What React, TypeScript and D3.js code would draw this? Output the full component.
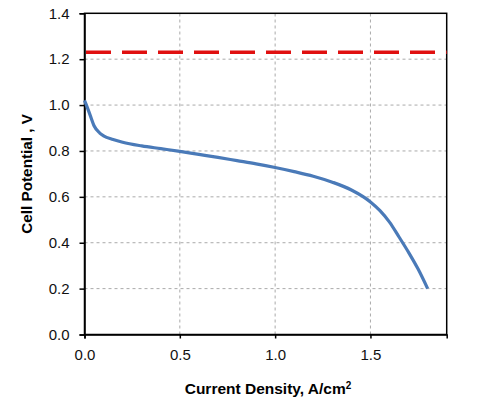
import { useEffect, useRef } from "react";
import * as d3 from "d3";

// polarization curve
const currentDensity = [0, 0.01, 0.03, 0.05, 0.08, 0.1, 0.15, 0.2, 0.3, 0.4, 0.5, 0.6, 0.7, 0.8, 0.9, 1.0, 1.1, 1.2, 1.3, 1.4, 1.5, 1.55, 1.6, 1.65, 1.7, 1.75, 1.8];
const cellPotential = [1.02, 1.0, 0.955, 0.91, 0.878, 0.866, 0.85, 0.838, 0.822, 0.81, 0.798, 0.785, 0.772, 0.758, 0.744, 0.728, 0.71, 0.69, 0.664, 0.63, 0.578, 0.54, 0.49, 0.425, 0.358, 0.285, 0.2];

// thermodynamic (reversible) potential line
const reversibleX = [0, 1.9];
const reversibleV = [1.23, 1.23];

const xTicks = [0, 0.5, 1.0, 1.5];
const yTicks = [0, 0.2, 0.4, 0.6, 0.8, 1.0, 1.2, 1.4];

const W = 491;
const H = 402;
const margin = { left: 84.5, top: 13.3, right: 491 - 446.7, bottom: 402 - 334.5 };
const FONT = "'Liberation Sans', Arial, sans-serif";

export default function App() {
  const svgRef = useRef<SVGSVGElement>(null);

  useEffect(() => {
    if (!svgRef.current) return;
    const svg = d3.select(svgRef.current);
    svg.selectAll("*").remove();

    const x = d3.scaleLinear().domain([0, 1.9]).range([margin.left, W - margin.right]);
    const y = d3.scaleLinear().domain([0, 1.4]).range([H - margin.bottom, margin.top]);

    // grid
    const grid = svg.append("g").attr("stroke", "#aaaaaa").attr("stroke-width", 1).attr("stroke-dasharray", "3,3");
    yTicks.filter(t => t > 0 && t < 1.4).forEach(t => {
      grid.append("line").attr("x1", x(0)).attr("x2", x(1.9)).attr("y1", y(t)).attr("y2", y(t));
    });
    xTicks.filter(t => t > 0).forEach(t => {
      grid.append("line").attr("x1", x(t)).attr("x2", x(t)).attr("y1", y(0)).attr("y2", y(1.4));
    });

    // frame
    svg.append("rect")
      .attr("x", x(0)).attr("y", y(1.4))
      .attr("width", x(1.9) - x(0)).attr("height", y(0) - y(1.4))
      .attr("fill", "none").attr("stroke", "#000").attr("stroke-width", 1.5);

    const xAxis = svg.append("g")
      .attr("transform", `translate(0,${y(0)})`)
      .call(d3.axisBottom(x).tickValues(xTicks).tickSize(4).tickPadding(11).tickFormat(d3.format(".1f")));
    const yAxis = svg.append("g")
      .attr("transform", `translate(${x(0)},0)`)
      .call(d3.axisLeft(y).tickValues(yTicks).tickSize(5).tickPadding(10).tickFormat(d3.format(".1f")));
    [xAxis, yAxis].forEach(g => {
      g.select(".domain").attr("stroke", "#000").attr("stroke-width", 1.5);
      g.selectAll(".tick line").attr("stroke", "#000").attr("stroke-width", 1.5);
      g.selectAll(".tick text")
        .attr("fill", "#111")
        .style("font-family", FONT)
        .style("font-size", "15px");
    });

    // red dashed line
    const line = d3.line<number>().x((_, i) => x(reversibleX[i])).y(d => y(d));
    svg.append("path")
      .datum(reversibleV)
      .attr("d", line)
      .attr("fill", "none")
      .attr("stroke", "#e01010")
      .attr("stroke-width", 3.5)
      .attr("stroke-dasharray", "25,11")
      .attr("stroke-dashoffset", -1.5);

    // polarization curve
    const curve = d3.line<number>()
      .x((_, i) => x(currentDensity[i]))
      .y(d => y(d))
      .curve(d3.curveMonotoneX);
    svg.append("path")
      .datum(cellPotential)
      .attr("d", curve)
      .attr("fill", "none")
      .attr("stroke", "#4a7ab8")
      .attr("stroke-width", 3.2)
      .attr("stroke-linejoin", "round");

    // axis titles
    svg.append("text")
      .attr("x", 268)
      .attr("y", 394)
      .attr("text-anchor", "middle")
      .style("font-family", FONT)
      .style("font-size", "15.5px")
      .style("font-weight", "bold")
      .text("Current Density, A/cm")
      .append("tspan")
      .attr("dy", -5.5)
      .style("font-size", "10px")
      .text("2");

    svg.append("text")
      .attr("transform", `translate(32,${(y(0) + y(1.4)) / 2}) rotate(-90)`)
      .attr("text-anchor", "middle")
      .style("font-family", FONT)
      .style("font-size", "15.3px")
      .style("font-weight", "bold")
      .text("Cell Potential , V");
  }, []);

  return (
    <svg
      ref={svgRef}
      width={W}
      height={H}
      style={{ position: "fixed", left: 0, top: 0, background: "#fff" }}
    />
  );
}
